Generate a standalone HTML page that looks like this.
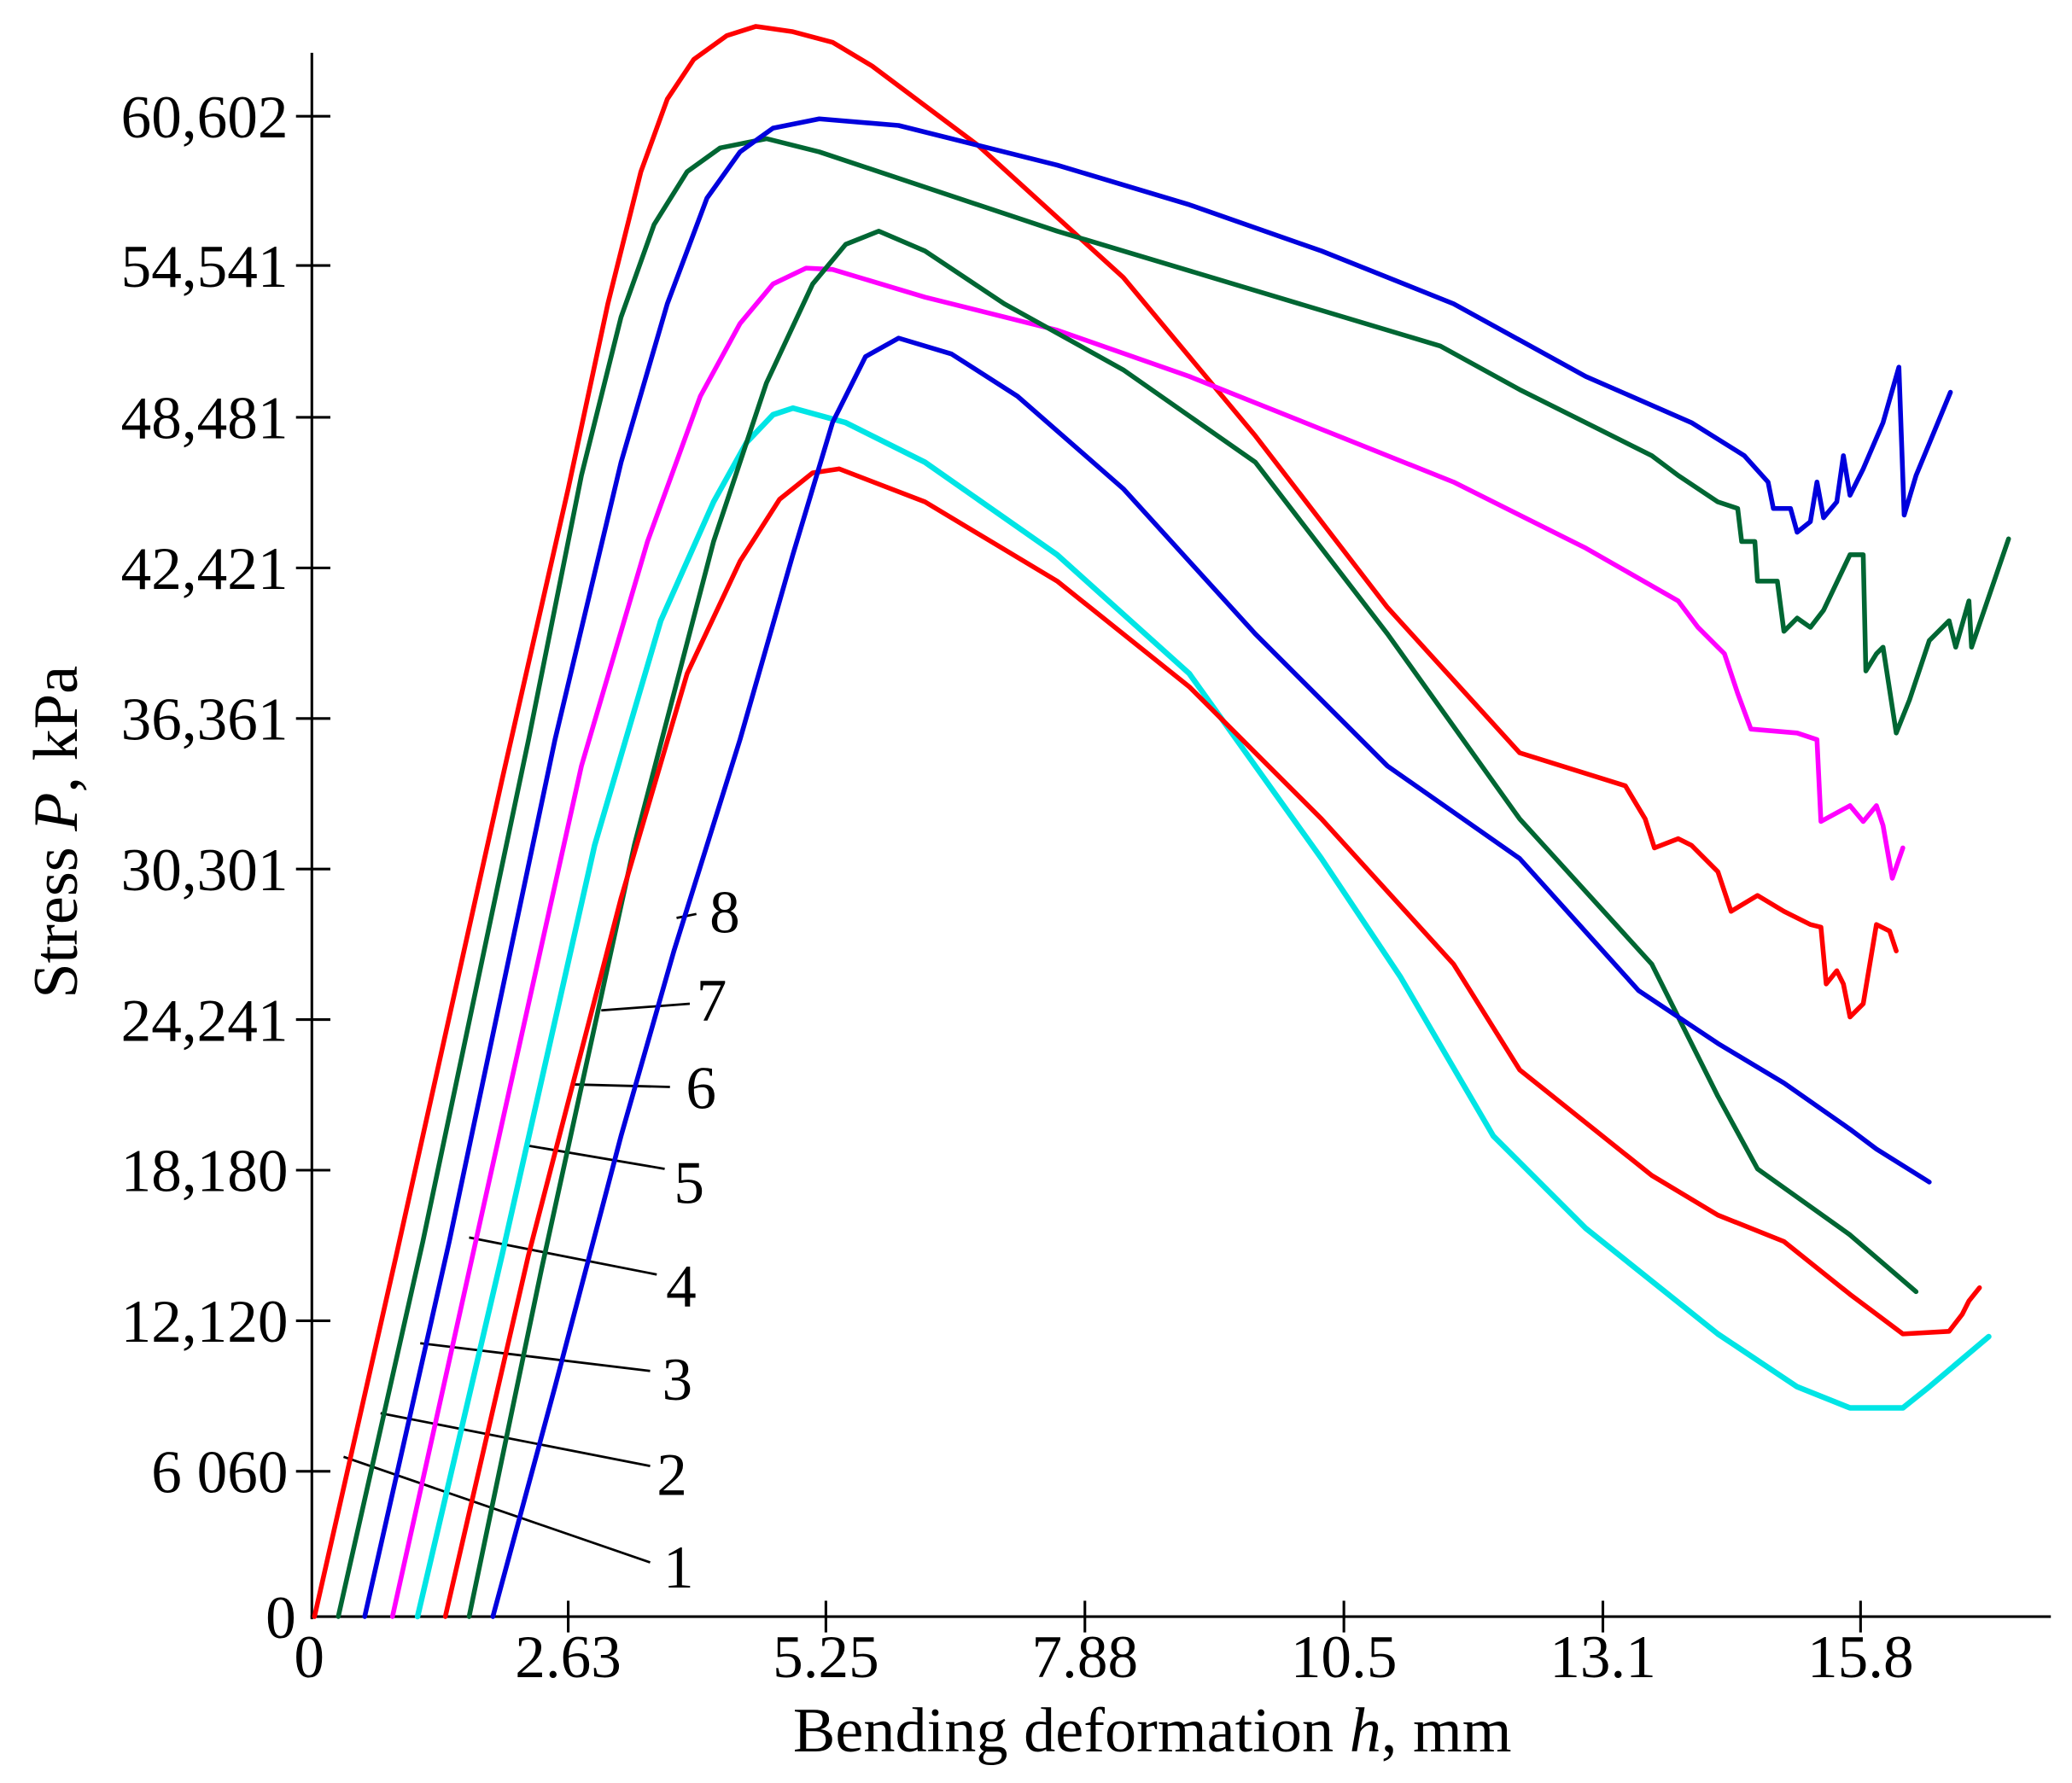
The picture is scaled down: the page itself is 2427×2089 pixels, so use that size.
<!DOCTYPE html>
<html><head><meta charset="utf-8"><style>html,body{margin:0;padding:0;background:#fff}svg{display:block}</style></head>
<body>
<svg width="2427" height="2089" viewBox="0 0 1568 1350" preserveAspectRatio="none" xmlns="http://www.w3.org/2000/svg">
<g stroke="#000" stroke-width="2" fill="none">
<line x1="236" y1="40" x2="236" y2="1226"/>
<line x1="235" y1="1224" x2="1552" y2="1224"/>
<g>
<line x1="224" y1="88" x2="250" y2="88"/><line x1="224" y1="201" x2="250" y2="201"/>
<line x1="224" y1="316" x2="250" y2="316"/><line x1="224" y1="430" x2="250" y2="430"/>
<line x1="224" y1="544" x2="250" y2="544"/><line x1="224" y1="658" x2="250" y2="658"/>
<line x1="224" y1="772" x2="250" y2="772"/><line x1="224" y1="886" x2="250" y2="886"/>
<line x1="224" y1="1000" x2="250" y2="1000"/><line x1="224" y1="1114" x2="250" y2="1114"/>
<line x1="430" y1="1212" x2="430" y2="1236"/><line x1="625" y1="1212" x2="625" y2="1236"/>
<line x1="821" y1="1212" x2="821" y2="1236"/><line x1="1017" y1="1212" x2="1017" y2="1236"/>
<line x1="1213" y1="1212" x2="1213" y2="1236"/><line x1="1408" y1="1212" x2="1408" y2="1236"/>
</g>
<g stroke-width="1.8">
<line x1="260" y1="1103" x2="492" y2="1183"/><line x1="288" y1="1070" x2="492" y2="1110"/>
<line x1="318" y1="1017" x2="492" y2="1038"/><line x1="355" y1="937" x2="497" y2="965"/>
<line x1="397" y1="867" x2="503" y2="885"/><line x1="432" y1="821" x2="507" y2="823"/>
<line x1="455" y1="765" x2="522" y2="760"/><line x1="512" y1="695" x2="527" y2="692"/>
</g>
</g>
<g font-family="'Liberation Serif',serif" font-size="46" fill="#000">
<g text-anchor="end">
<text x="218" y="104">60,602</text><text x="218" y="217">54,541</text>
<text x="218" y="332">48,481</text><text x="218" y="446">42,421</text>
<text x="218" y="560">36,361</text><text x="218" y="674">30,301</text>
<text x="218" y="788">24,241</text><text x="218" y="902">18,180</text>
<text x="218" y="1016">12,120</text><text x="218" y="1130">6 060</text>
<text x="224" y="1240">0</text>
</g>
<g text-anchor="middle">
<text x="234" y="1270">0</text><text x="430" y="1270">2.63</text><text x="625" y="1270">5.25</text>
<text x="821" y="1270">7.88</text><text x="1017" y="1270">10.5</text><text x="1213" y="1270">13.1</text>
<text x="1408" y="1270">15.8</text>
<text x="872" y="1326" font-size="48">Bending deformation <tspan font-style="italic">h</tspan>, mm</text>
<text transform="translate(58,630) rotate(-90)" font-size="48">Stress <tspan font-style="italic">P</tspan>, kPa</text>
</g>
<text x="502" y="1202">1</text><text x="497" y="1132">2</text><text x="501" y="1060">3</text>
<text x="504" y="989">4</text><text x="510" y="911">5</text><text x="519" y="839">6</text>
<text x="527" y="773">7</text><text x="537" y="706">8</text>
</g>
<g fill="none" stroke-width="3.6" stroke-linejoin="round" stroke-linecap="round">
<polyline stroke="#ff0000" points="238,1224 300,950 380,590 430,370 460,230 485,130 505,75 525,45 550,27 572,20 600,24 630,32 660,50 740,110 850,210 950,330 1050,460 1150,570 1230,595 1245,620 1252,642 1270,635 1280,640 1300,660 1310,690 1330,678 1350,690 1370,700 1378,702 1382,745 1390,735 1395,745 1400,770 1410,760 1420,700 1430,705 1435,720"/>
<polyline stroke="#006633" points="256,1224 320,940 400,560 440,360 470,240 495,170 520,130 545,112 580,105 620,115 800,175 1000,235 1090,262 1150,295 1210,325 1250,345 1270,360 1300,380 1315,385 1318,410 1328,410 1330,440 1345,440 1350,478 1360,468 1370,475 1380,462 1400,420 1410,420 1412,508 1420,495 1425,490 1435,555 1445,530 1460,485 1475,470 1480,490 1490,455 1492,490 1520,408"/>
<polyline stroke="#0000dd" points="276,1224 340,940 420,560 470,350 505,230 535,150 560,115 585,97 620,90 680,95 800,125 900,155 1000,190 1100,230 1200,285 1280,320 1320,345 1338,365 1342,385 1355,385 1360,403 1370,395 1375,365 1380,392 1390,380 1395,345 1400,375 1410,355 1425,320 1437,278 1441,390 1450,360 1476,297"/>
<polyline stroke="#ff00ff" points="297,1224 360,940 440,580 490,410 530,300 560,245 585,215 610,203 630,204 700,225 800,250 900,285 1000,325 1100,365 1200,415 1270,455 1285,475 1300,490 1305,495 1315,525 1325,552 1360,555 1375,560 1378,622 1400,610 1410,622 1420,610 1425,625 1432,665 1440,642"/>
<polyline stroke="#00e5e5" stroke-width="4.2" points="316,1224 380,950 450,640 500,470 540,380 565,335 585,314 600,309 640,320 700,350 800,420 900,510 1000,650 1060,740 1130,860 1200,930 1300,1010 1360,1050 1400,1066 1440,1066 1460,1050 1505,1012"/>
<polyline stroke="#006633" points="355,1224 410,960 480,640 540,410 580,290 615,215 640,185 665,175 700,190 760,230 850,280 950,350 1050,480 1150,620 1250,730 1300,830 1330,885 1400,935 1450,978"/>
<polyline stroke="#ff0000" points="337,1224 400,950 470,680 520,510 560,425 590,378 615,358 635,355 700,380 800,440 900,520 1000,620 1100,730 1150,810 1250,890 1300,920 1350,940 1400,980 1440,1010 1475,1008 1485,995 1490,985 1498,975"/>
<polyline stroke="#0000dd" points="373,1224 420,1050 470,860 510,720 560,560 600,420 630,320 655,270 680,256 720,268 770,300 850,370 950,480 1050,580 1150,650 1240,750 1300,790 1350,820 1400,855 1420,870 1460,895"/>
</g>
</svg>
</body></html>
